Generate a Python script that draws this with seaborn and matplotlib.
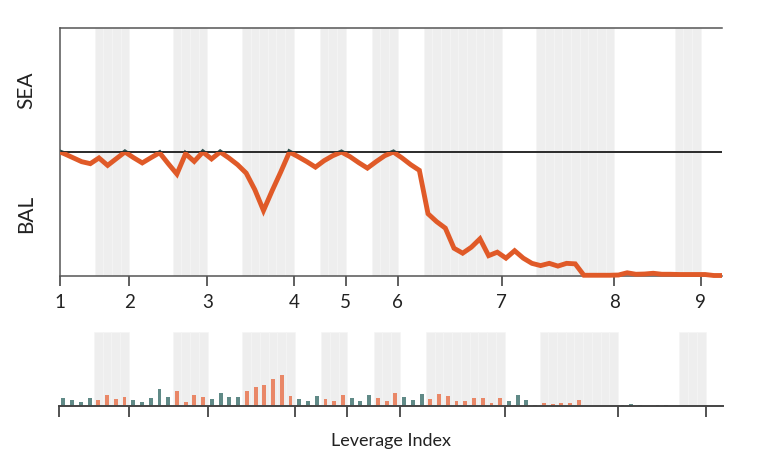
import numpy as np
import pandas as pd
import matplotlib
matplotlib.use("Agg")
import matplotlib.pyplot as plt
import seaborn as sns
from matplotlib.patches import Rectangle

sns.set_theme(style="white")
plt.rcParams["font.family"] = ["Lato", "DejaVu Sans"]

# ---------------- data ----------------
innings = ["1", "2", "3", "4", "5", "6", "7", "8", "9"]
# plate appearances per half inning (top 1, bottom 1, top 2, ...)
pa_per_half = [4, 4, 5, 4, 4, 6, 3, 3, 3, 3, 3, 9, 4, 9, 7, 3, 2]
half_team = ["SEA", "BAL"] * 8 + ["SEA"]
start_wp = 0.5
# win probability (SEA share) after each plate appearance
wp_after = [0.493, 0.477, 0.461, 0.453, 0.476, 0.446, 0.473, 0.500, 0.477, 0.456,
            0.477, 0.497, 0.453, 0.411, 0.493, 0.462, 0.500, 0.472, 0.500, 0.476,
            0.449, 0.415, 0.348, 0.264, 0.344, 0.420, 0.500, 0.481, 0.461, 0.439,
            0.465, 0.485, 0.500, 0.481, 0.457, 0.435, 0.461, 0.485, 0.500, 0.476,
            0.449, 0.426, 0.251, 0.219, 0.193, 0.112, 0.092, 0.116, 0.150, 0.082,
            0.096, 0.072, 0.102, 0.072, 0.051, 0.042, 0.051, 0.040, 0.051, 0.049,
            0.003, 0.003, 0.003, 0.003, 0.004, 0.013, 0.007, 0.008, 0.011, 0.007,
            0.007, 0.006, 0.006, 0.006, 0.006, 0.002]
# leverage index of each plate appearance
leverage = [1.00, 0.71, 0.46, 1.00,
            0.71, 1.34, 0.91, 1.09,
            0.75, 0.46, 0.96, 2.09, 1.09,
            1.84, 0.46, 1.41, 1.16,
            0.84, 1.59, 1.09, 1.16,
            1.91, 2.41, 2.66, 3.41, 3.84, 1.25,
            0.88, 0.59, 1.25,
            0.88, 0.59, 1.41,
            1.00, 0.63, 1.34,
            1.00, 0.66, 1.59,
            1.09, 0.75, 1.50,
            0.91, 1.50, 1.25, 0.66, 0.59, 1.00, 1.00, 0.41, 1.00,
            0.66, 1.38, 0.75, 0.16,
            0.34, 0.25, 0.41, 0.41, 0.71, 0.00, 0.00, 0.00, 0.00,
            0.09, 0.25, 0.13, 0.00, 0.09, 0.09, 0.00,
            0.00, 0.00, 0.04,
            0.00, 0.00]

# ---------------- styling ----------------
teal_bar = "#608a87"
orange_bar = "#e98767"
line_orange = "#e05a28"
line_teal = "#2e504d"
band_gray = "#eeeeee"
axis_col = "#444444"

n_pa = len(wp_after)
bounds = np.concatenate([[0], np.cumsum(pa_per_half)])
inning_starts = bounds[0::2][:len(innings)]
pa_team = np.repeat(half_team, pa_per_half)
top_xmax = n_pa + 0.45

fig = plt.figure(figsize=(7.68, 4.67), dpi=100)
ax = fig.add_axes([60 / 768, 1 - 276 / 467, 662 / 768, 248 / 467])
ax2 = fig.add_axes([59 / 768, 1 - 406 / 467, 664 / 768, 74 / 467])

# shaded half innings (home team batting)
for h, team in enumerate(half_team):
    if team == "BAL":
        for j in range(bounds[h], bounds[h + 1]):
            for a in (ax, ax2):
                a.axvspan(j, j + 1, facecolor=band_gray, edgecolor="#f5f5f5",
                          linewidth=0.4, zorder=0)

# ---------------- top: win probability ----------------
xs = np.concatenate([[0], np.arange(n_pa) + 0.5, [top_xmax]])
ys = np.concatenate([[start_wp], wp_after, [wp_after[-1]]])
df_line = pd.DataFrame({"pa": xs, "wp": ys})

ax.axhline(0.5, color="#2a2a2a", linewidth=1.4, zorder=2)

sns.lineplot(data=df_line, x="pa", y="wp", ax=ax, color=line_orange,
             linewidth=3.5, sort=False, zorder=3)
l_or = ax.lines[-1]
l_or.set_solid_joinstyle("miter")
l_or.set_clip_path(Rectangle((0, -1), top_xmax, 1.5, transform=ax.transData))

sns.lineplot(data=df_line, x="pa", y="wp", ax=ax, color=line_teal,
             linewidth=3.5, sort=False, zorder=3)
l_te = ax.lines[-1]
l_te.set_solid_joinstyle("miter")
l_te.set_clip_path(Rectangle((0, 0.503), top_xmax, 1.0, transform=ax.transData))

ax.set_xlim(0, top_xmax)
ax.set_ylim(0, 1)
ax.set_xticks(inning_starts)
ax.set_xticklabels(innings)
ax.set_yticks([])
ax.set_xlabel("")
ax.set_ylabel("")
ax.tick_params(axis="x", length=7, width=1.2, color=axis_col, labelsize=13.5,
               pad=6, labelcolor="#222222", bottom=True)
for side in ["left", "top", "bottom"]:
    ax.spines[side].set_color("#555555")
    ax.spines[side].set_linewidth(1.1)
ax.spines["right"].set_visible(False)

# ---------------- bottom: leverage index ----------------
df_bar = pd.DataFrame({"pa": np.arange(n_pa) + 0.5, "li": leverage, "team": pa_team})
sns.barplot(data=df_bar, x="pa", y="li", hue="team", ax=ax2,
            palette={"SEA": teal_bar, "BAL": orange_bar}, dodge=False,
            native_scale=True, width=0.45, saturation=1, linewidth=0,
            legend=False, zorder=2)
ax2.set_xlim(0, n_pa)
ax2.set_ylim(0, 9.25)
ax2.set_xticks(inning_starts)
ax2.set_xticklabels([""] * len(inning_starts))
ax2.set_yticks([])
ax2.set_xlabel("")
ax2.set_ylabel("")
ax2.tick_params(axis="x", length=8, width=1.3, color=axis_col, bottom=True)
for side in ["left", "top", "right"]:
    ax2.spines[side].set_visible(False)
ax2.spines["bottom"].set_color(axis_col)
ax2.spines["bottom"].set_linewidth(1.4)

# labels
fig.text(26 / 768, 1 - 90 / 467, "SEA", rotation=90, ha="center", va="center",
         fontsize=15, color="#222222")
fig.text(26 / 768, 1 - 214 / 467, "BAL", rotation=90, ha="center", va="center",
         fontsize=15, color="#222222")
fig.text(391 / 768, 1 - 441 / 467, "Leverage Index", ha="center", va="center",
         fontsize=13, color="#222222")

fig.savefig("out.png", dpi=100)
